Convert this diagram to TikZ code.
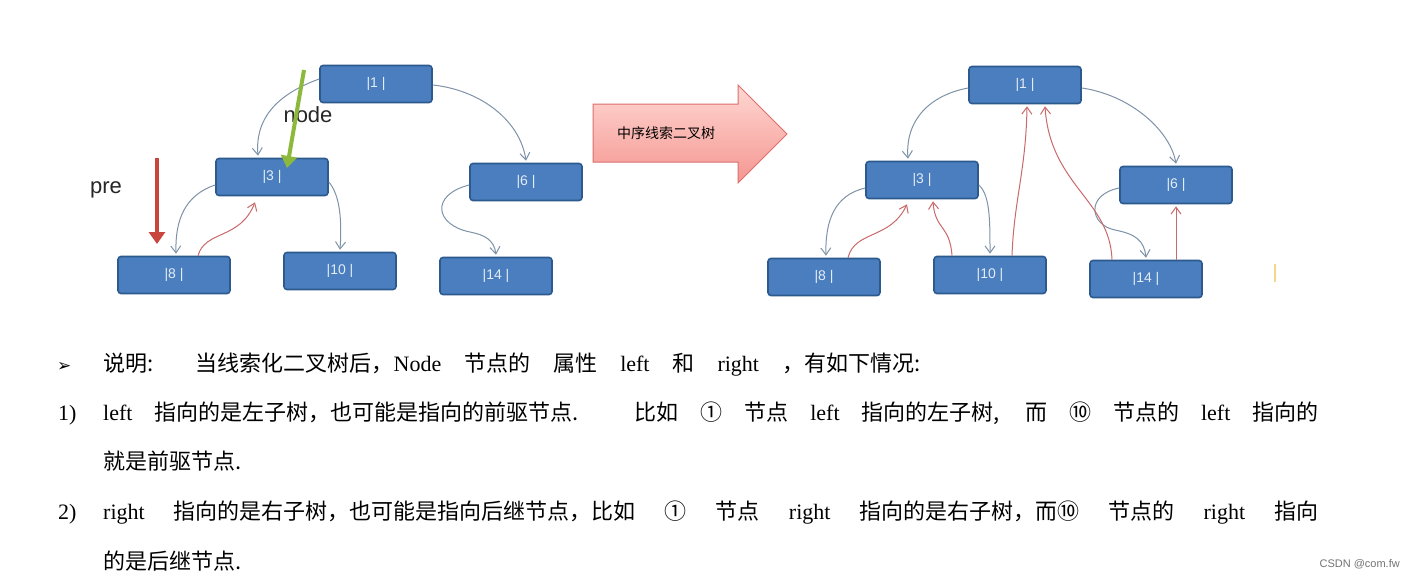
\documentclass[tikz,border=0pt]{standalone}
\usepackage{fontspec}
\setmainfont{Liberation Serif}
\newfontfamily\cjk{Noto Sans CJK SC}
\newfontfamily\dv{DejaVu Sans}
\newfontfamily\lab{Liberation Sans}
\usetikzlibrary{calc,arrows.meta}
\definecolor{nfill}{HTML}{4A7EBF}
\definecolor{ndraw}{HTML}{2D5A8E}
\definecolor{eg}{HTML}{7E92A8}
\definecolor{er}{HTML}{C9696B}
\tikzset{
 tnode/.style={draw=ndraw,line width=1.6pt,fill=nfill,rounded corners=3pt,minimum width=112pt,minimum height=37pt,text=white!85!nfill,font=\lab\fontsize{14}{14}\selectfont,inner sep=0},
 ge/.style={eg,line width=1pt,-{Straight Barb[length=7pt,width=10pt]}},
 re/.style={er,line width=1pt,-{Straight Barb[length=7pt,width=10pt]}},
 txt/.style={anchor=base west,inner sep=0,font=\fontsize{22}{22}\selectfont},
}
\begin{document}
\begin{tikzpicture}[x=1pt,y=-1pt]
\useasboundingbox[fill=white] (0,0) rectangle (1414,578);
% left tree
\node[tnode] (a1) at (376,84) {|1 |};
\node[tnode] (a3) at (272,177) {|3 |};
\node[tnode] (a6) at (526,182) {|6 |};
\node[tnode] (a8) at (174,275) {|8 |};
\node[tnode] (a10) at (340,271) {|10 |};
\node[tnode] (a14) at (496,276) {|14 |};
\draw[ge] ($(a1.west)+(0,-5)$) .. controls (275,95) and (255,120) .. ($(a3.north)+(-14,-2)$);
\draw[ge] ($(a1.east)+(0,1)$) .. controls (480,90) and (520,120) .. ($(a6.north)+(0,-2)$);
\draw[ge] ($(a3.west)+(0,8)$) .. controls (185,195) and (175,220) .. ($(a8.north)+(2,-2)$);
\draw[ge] ($(a3.east)+(0,5)$) .. controls (340,195) and (342,220) .. ($(a10.north)+(0,-2)$);
\draw[ge] ($(a6.west)+(0,3)$) .. controls (430,195) and (435,225) .. (470,232) .. controls (485,235) and (494,240) .. ($(a14.north)+(0,-2)$);
\draw[re] ($(a8.north)+(24,0)$) .. controls (205,230) and (240,240) .. ($(a3.south)+(-17,6)$);
% pointers
\draw[draw={rgb,255:red,200;green,70;blue,60},line width=4pt,-{Triangle[length=12pt,width=16pt]}] (157,158) -- (157,244);
\node[font=\lab\fontsize{22}{22}\selectfont,text=black!85] (pre) at (106,190) {pre};
\node[font=\lab\fontsize{22}{22}\selectfont,text=black!85] (nd) at (308,115) {node};
\draw[draw={rgb,255:red,140;green,185;blue,60},line width=4pt,-{Triangle[length=12pt,width=16pt]}] (304,70) -- (287,168);
% big arrow
\path[draw={rgb,255:red,220;green,110;blue,110},line width=1pt,top color={rgb,255:red,255;green,215;blue,210},bottom color={rgb,255:red,245;green,150;blue,145}]
 (593,104) -- (738,104) -- (738,85) -- (787,134) -- (738,183) -- (738,162) -- (593,162) -- cycle;
\node[font=\cjk\fontsize{14}{14}\selectfont,inner sep=0] (big) at (666,133) {中序线索二叉树};
% right tree
\node[tnode] (b1) at (1025,85) {|1 |};
\node[tnode] (b3) at (922,180) {|3 |};
\node[tnode] (b6) at (1176,185) {|6 |};
\node[tnode] (b8) at (824,277) {|8 |};
\node[tnode] (b10) at (990,275) {|10 |};
\node[tnode] (b14) at (1146,279) {|14 |};
\draw[ge] ($(b1.west)+(0,3)$) .. controls (930,95) and (905,120) .. ($(b3.north)+(-14,-2)$);
\draw[ge] ($(b1.east)+(0,3)$) .. controls (1130,95) and (1170,130) .. ($(b6.north)+(0,-2)$);
\draw[ge] ($(b3.west)+(0,8)$) .. controls (835,195) and (825,220) .. ($(b8.north)+(2,-2)$);
\draw[ge] ($(b3.east)+(0,5)$) .. controls (990,195) and (990,220) .. ($(b10.north)+(0,-2)$);
\draw[ge] ($(b6.west)+(0,3)$) .. controls (1085,195) and (1090,225) .. (1115,230) .. controls (1135,234) and (1144,240) .. ($(b14.north)+(0,-2)$);
\draw[re] ($(b8.north)+(24,0)$) .. controls (855,230) and (890,240) .. ($(b3.south)+(-15,5)$);
\draw[re] ($(b10.north)+(-38,0)$) .. controls (950,225) and (935,230) .. ($(b3.south)+(11,2)$);
\draw[re] ($(b10.north)+(22,0)$) .. controls (1014,200) and (1026,170) .. ($(b1.south)+(2,2)$);
\draw[re] ($(b14.north)+(-34,0)$) .. controls (1110,200) and (1050,185) .. ($(b1.south)+(20,2)$);
\draw[re] ($(b14.north)+(30,0)$) -- ($(b6.south)+(0,2)$);
\draw[draw={rgb,255:red,245;green,215;blue,140},line width=2pt] (1275,264) -- (1275,282);
% text
\node[font=\dv\fontsize{17}{17}\selectfont,anchor=base west,inner sep=0] (bul) at (57,371) {➢};
\node[txt] (l1) at (103,371) {\makebox[817pt][s]{{\cjk 说明:} {\cjk 当线索化二叉树后，}Node {\cjk 节点的} {\cjk 属性} left {\cjk 和} right {\cjk ，有如下情况:}}};
\node[txt] (n1) at (58,420) {1)};
\node[txt] (l2) at (103,420) {\makebox[1215pt][s]{left {\cjk 指向的是左子树，也可能是指向的前驱节点.} {\cjk 比如} {\cjk ①} {\cjk 节点} left {\cjk 指向的左子树,} {\cjk 而} {\cjk ⑩} {\cjk 节点的} left {\cjk 指向的}}};
\node[txt] (l3) at (103,469) {{\cjk 就是前驱节点.}};
\node[txt] (n2) at (58,519) {2)};
\node[txt] (l4) at (103,519) {\makebox[1215pt][s]{right {\cjk 指向的是右子树，也可能是指向后继节点，比如} {\cjk ①} {\cjk 节点} right {\cjk 指向的是右子树，而⑩} {\cjk 节点的} right {\cjk 指向}}};
\node[txt] (l5) at (103,569) {{\cjk 的是后继节点.}};
\node[anchor=base east,inner sep=0,font=\lab\fontsize{11}{11}\selectfont,text=black!55] (csdn) at (1400,567) {CSDN @com.fw};
\end{tikzpicture}
\end{document}
